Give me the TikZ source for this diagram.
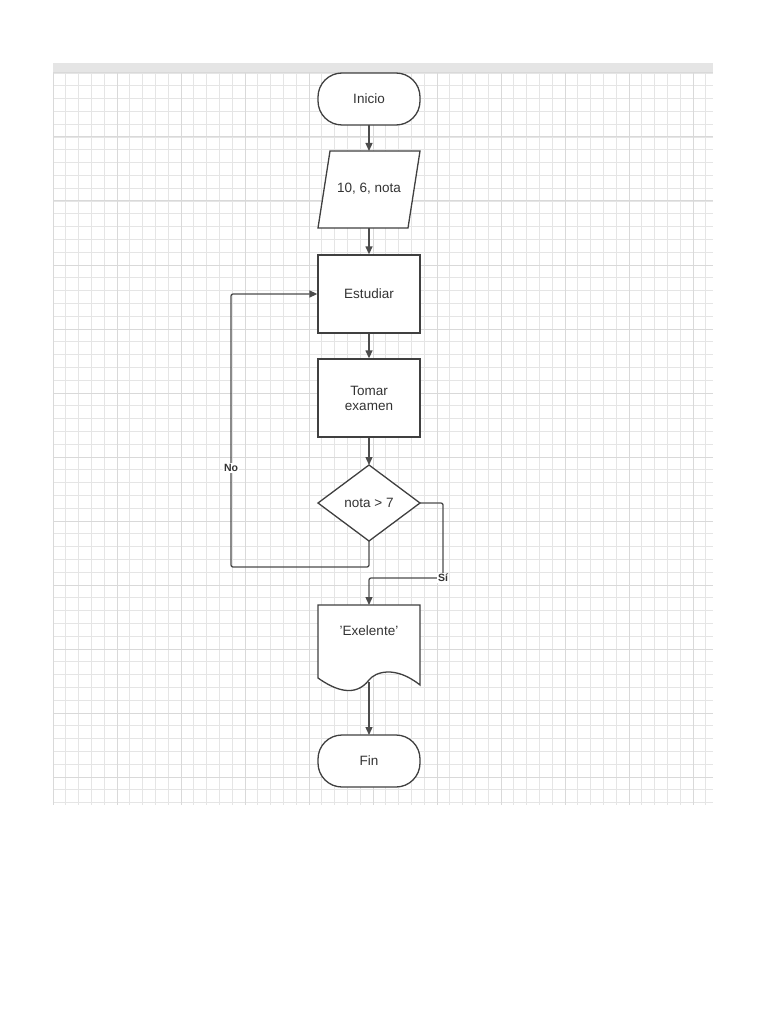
\documentclass[tikz,border=0pt]{standalone}
\usepackage{fontspec}
\setmainfont{Liberation Sans}
\usetikzlibrary{shapes.geometric,arrows.meta}
\begin{document}
\begin{tikzpicture}[x=1pt,y=-1pt,
  box/.style={draw=black!75,line width=1.3pt,fill=white},
  conn/.style={draw=black!70,line width=1.3pt,-{Triangle[length=8pt,width=7pt]},rounded corners=2pt},
  lbl/.style={font=\fontsize{13.5}{15}\selectfont,text=black!80},
  edgelbl/.style={font=\bfseries\fontsize{10.5}{12}\selectfont,text=black!80,fill=white,inner sep=1pt}]
\useasboundingbox (0,0) rectangle (768,1024);
\fill[white] (0,0) rectangle (768,1024);
% grid
\foreach \i in {0,...,51} {\draw[black!10,line width=0.7pt] (53+\i*12.8,73) -- (53+\i*12.8,805);}
\foreach \j in {0,...,57} {\draw[black!10,line width=0.7pt] (53,73+\j*12.8) -- (713,73+\j*12.8);}
\foreach \i in {0,...,10} {\draw[black!15,line width=1pt] (53+\i*64,73) -- (53+\i*64,805);}
\foreach \j in {0,...,11} {\draw[black!15,line width=1pt] (53,73+\j*64) -- (713,73+\j*64);}
\fill[black!10] (53,63) rectangle (713,72);
% nodes
\draw[box,rounded corners=24pt] (318,73) rectangle (420,125);
\node[lbl] (ini) at (369,99) {Inicio};
\coordinate (iniB) at (369,125);
\draw[box] (330,151) -- (420,151) -- (408,228) -- (318,228) -- cycle;
\node[lbl] (dat) at (369,189) {10, 6, nota};
\coordinate (datT) at (369,151); \coordinate (datB) at (369,228);
\node[box,minimum width=102pt,minimum height=78pt,lbl] (est) at (369,294) {Estudiar};
\node[box,minimum width=102pt,minimum height=78pt,lbl,align=center] (tom) at (369,398) {Tomar\\examen};
\draw[box] (369,465) -- (420,503) -- (369,541) -- (318,503) -- cycle;
\node[lbl] (dec) at (369,503) {nota > 7};
\coordinate (decT) at (369,465); \coordinate (decB) at (369,541);
\coordinate (decR) at (420,503);
\draw[box] (318,605) -- (420,605) -- (420,685) .. controls (395,665) and (375,672) .. (369,680)
   .. controls (355,698) and (335,690) .. (318,678) -- cycle;
\node[lbl] (doc) at (369,631) {'Exelente'};
\coordinate (docT) at (369,605); \coordinate (docB) at (369,682);
\draw[box,rounded corners=24pt] (318,735) rectangle (420,787);
\node[lbl] (fin) at (369,761) {Fin};
\coordinate (finT) at (369,735);
% connectors
\draw[conn] (iniB) -- (datT);
\draw[conn] (datB) -- (est.north);
\draw[conn] (est.south) -- (tom.north);
\draw[conn] (tom.south) -- (decT);
\draw[conn] (decB) -- (369,567) -- (231,567) -- (231,294) -- (est.west);
\node[edgelbl] (no) at (231,468) {No};
\draw[conn] (decR) -- (443,503) -- (443,578) -- (369,578) -- (docT);
\node[edgelbl] (si) at (443,578) {Sí};
\draw[conn] (docB) -- (finT);
\end{tikzpicture}
\end{document}
